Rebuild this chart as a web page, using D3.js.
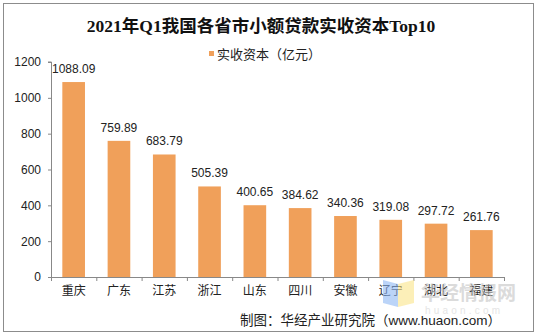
<!DOCTYPE html>
<html>
<head>
<meta charset="utf-8">
<script src="https://cdn.jsdelivr.net/npm/d3@7"></script>
<style>
  body { margin: 0; background: #fff; }
  svg { display: block; }
</style>
</head>
<body>
<svg id="chart" width="537" height="336"></svg>
<script>
// data
var provinces = ["重庆", "广东", "江苏", "浙江", "山东", "四川", "安徽", "辽宁", "湖北", "福建"];
var capital = [1088.09, 759.89, 683.79, 505.39, 400.65, 384.62, 340.36, 319.08, 297.72, 261.76];
var yTicks = [0, 200, 400, 600, 800, 1000, 1200];

var svg = d3.select("#chart");
var W = 537, H = 336;
// plot area (note: "top" is reserved on window, so use plot* names)
var plotL = 51, plotR = 504, plotT = 62, plotB = 277;
var labelFont = "'Liberation Sans', Arial, 'Noto Sans CJK SC', sans-serif";

// outer frame
svg.append("rect")
    .attr("x", 3.5).attr("y", 3.5)
    .attr("width", W - 7).attr("height", H - 8)
    .attr("fill", "#fff").attr("stroke", "#8c8c8c").attr("stroke-width", 1);

// title
svg.append("text")
    .attr("x", 261).attr("y", 32)
    .attr("text-anchor", "middle")
    .attr("font-family", "'Liberation Serif', 'Noto Sans CJK SC', serif")
    .attr("font-weight", "bold")
    .attr("font-size", 17.5)
    .attr("fill", "#111")
    .text("2021年Q1我国各省市小额贷款实收资本Top10");

// legend
svg.append("rect")
    .attr("x", 209).attr("y", 51).attr("width", 5).attr("height", 5)
    .attr("fill", "#f0a05a");
svg.append("text")
    .attr("x", 217).attr("y", 59)
    .attr("font-family", labelFont)
    .attr("font-size", 13)
    .attr("fill", "#222")
    .text("实收资本（亿元）");

var x = d3.scaleBand().domain(provinces).range([plotL, plotR]).paddingInner(0.5).paddingOuter(0.25);
var y = d3.scaleLinear().domain([0, 1200]).range([plotB, plotT]);

// bars
svg.append("g").selectAll("rect")
    .data(capital)
    .join("rect")
    .attr("x", function (d, i) { return x(provinces[i]); })
    .attr("y", function (d) { return y(d); })
    .attr("width", x.bandwidth())
    .attr("height", function (d) { return y(0) - y(d); })
    .attr("fill", "#f0a05a");

// value labels
svg.append("g").selectAll("text")
    .data(capital)
    .join("text")
    .attr("x", function (d, i) { return x(provinces[i]) + x.bandwidth() / 2; })
    .attr("y", function (d) { return y(d) - 9; })
    .attr("text-anchor", "middle")
    .attr("font-family", labelFont)
    .attr("font-size", 12)
    .attr("fill", "#222")
    .text(function (d) { return d.toFixed(2); });

// y axis
var yAxis = svg.append("g")
    .attr("transform", "translate(" + plotL + ",0)")
    .call(d3.axisLeft(y).tickValues(yTicks).tickSize(3).tickPadding(7).tickFormat(d3.format("d")));
yAxis.select(".domain").attr("stroke", "#888").attr("d", "M-3," + plotT + "H0.5V" + plotB);
yAxis.selectAll(".tick line").attr("stroke", "#888");
yAxis.selectAll("text").attr("font-family", labelFont).attr("font-size", 12).attr("fill", "#222");

// x axis
var xAxis = svg.append("g")
    .attr("transform", "translate(0," + plotB + ")")
    .call(d3.axisBottom(x).tickSize(0).tickPadding(9));
xAxis.select(".domain").attr("stroke", "#888").attr("d", "M" + plotL + ",0.5H" + plotR);
xAxis.selectAll("text").attr("font-family", labelFont).attr("font-size", 12).attr("fill", "#222");
// category separator ticks
svg.append("g").selectAll("line")
    .data(d3.range(provinces.length + 1))
    .join("line")
    .attr("x1", function (i) { return plotL + i * (plotR - plotL) / provinces.length + 0.5; })
    .attr("x2", function (i) { return plotL + i * (plotR - plotL) / provinces.length + 0.5; })
    .attr("y1", plotB).attr("y2", plotB + 4)
    .attr("stroke", "#888");

// watermark
var wm = svg.append("g").attr("opacity", 0.6);
wm.append("path").attr("d", "M383,280 L398,284 L398,307 L383,303 Z").attr("fill", "#8fb8f5");
wm.append("path").attr("d", "M398,284 L414,280 L414,303 L398,307 Z").attr("fill", "#fbe58a");
wm.append("text")
    .attr("x", 421).attr("y", 300)
    .attr("font-family", "'Noto Sans CJK SC', sans-serif")
    .attr("font-weight", "bold")
    .attr("font-size", 19)
    .attr("fill", "#c4c4c4")
    .text("华经情报网");
wm.append("text")
    .attr("x", 425).attr("y", 314)
    .attr("font-family", labelFont)
    .attr("font-size", 10)
    .attr("letter-spacing", 3.2)
    .attr("fill", "#d4d4d4")
    .text("huaon.com");

// source
svg.append("text")
    .attr("x", 501).attr("y", 325)
    .attr("text-anchor", "end")
    .attr("font-family", labelFont)
    .attr("font-size", 13.5)
    .attr("fill", "#222")
    .text("制图：华经产业研究院（www.huaon.com）");
</script>
</body>
</html>
